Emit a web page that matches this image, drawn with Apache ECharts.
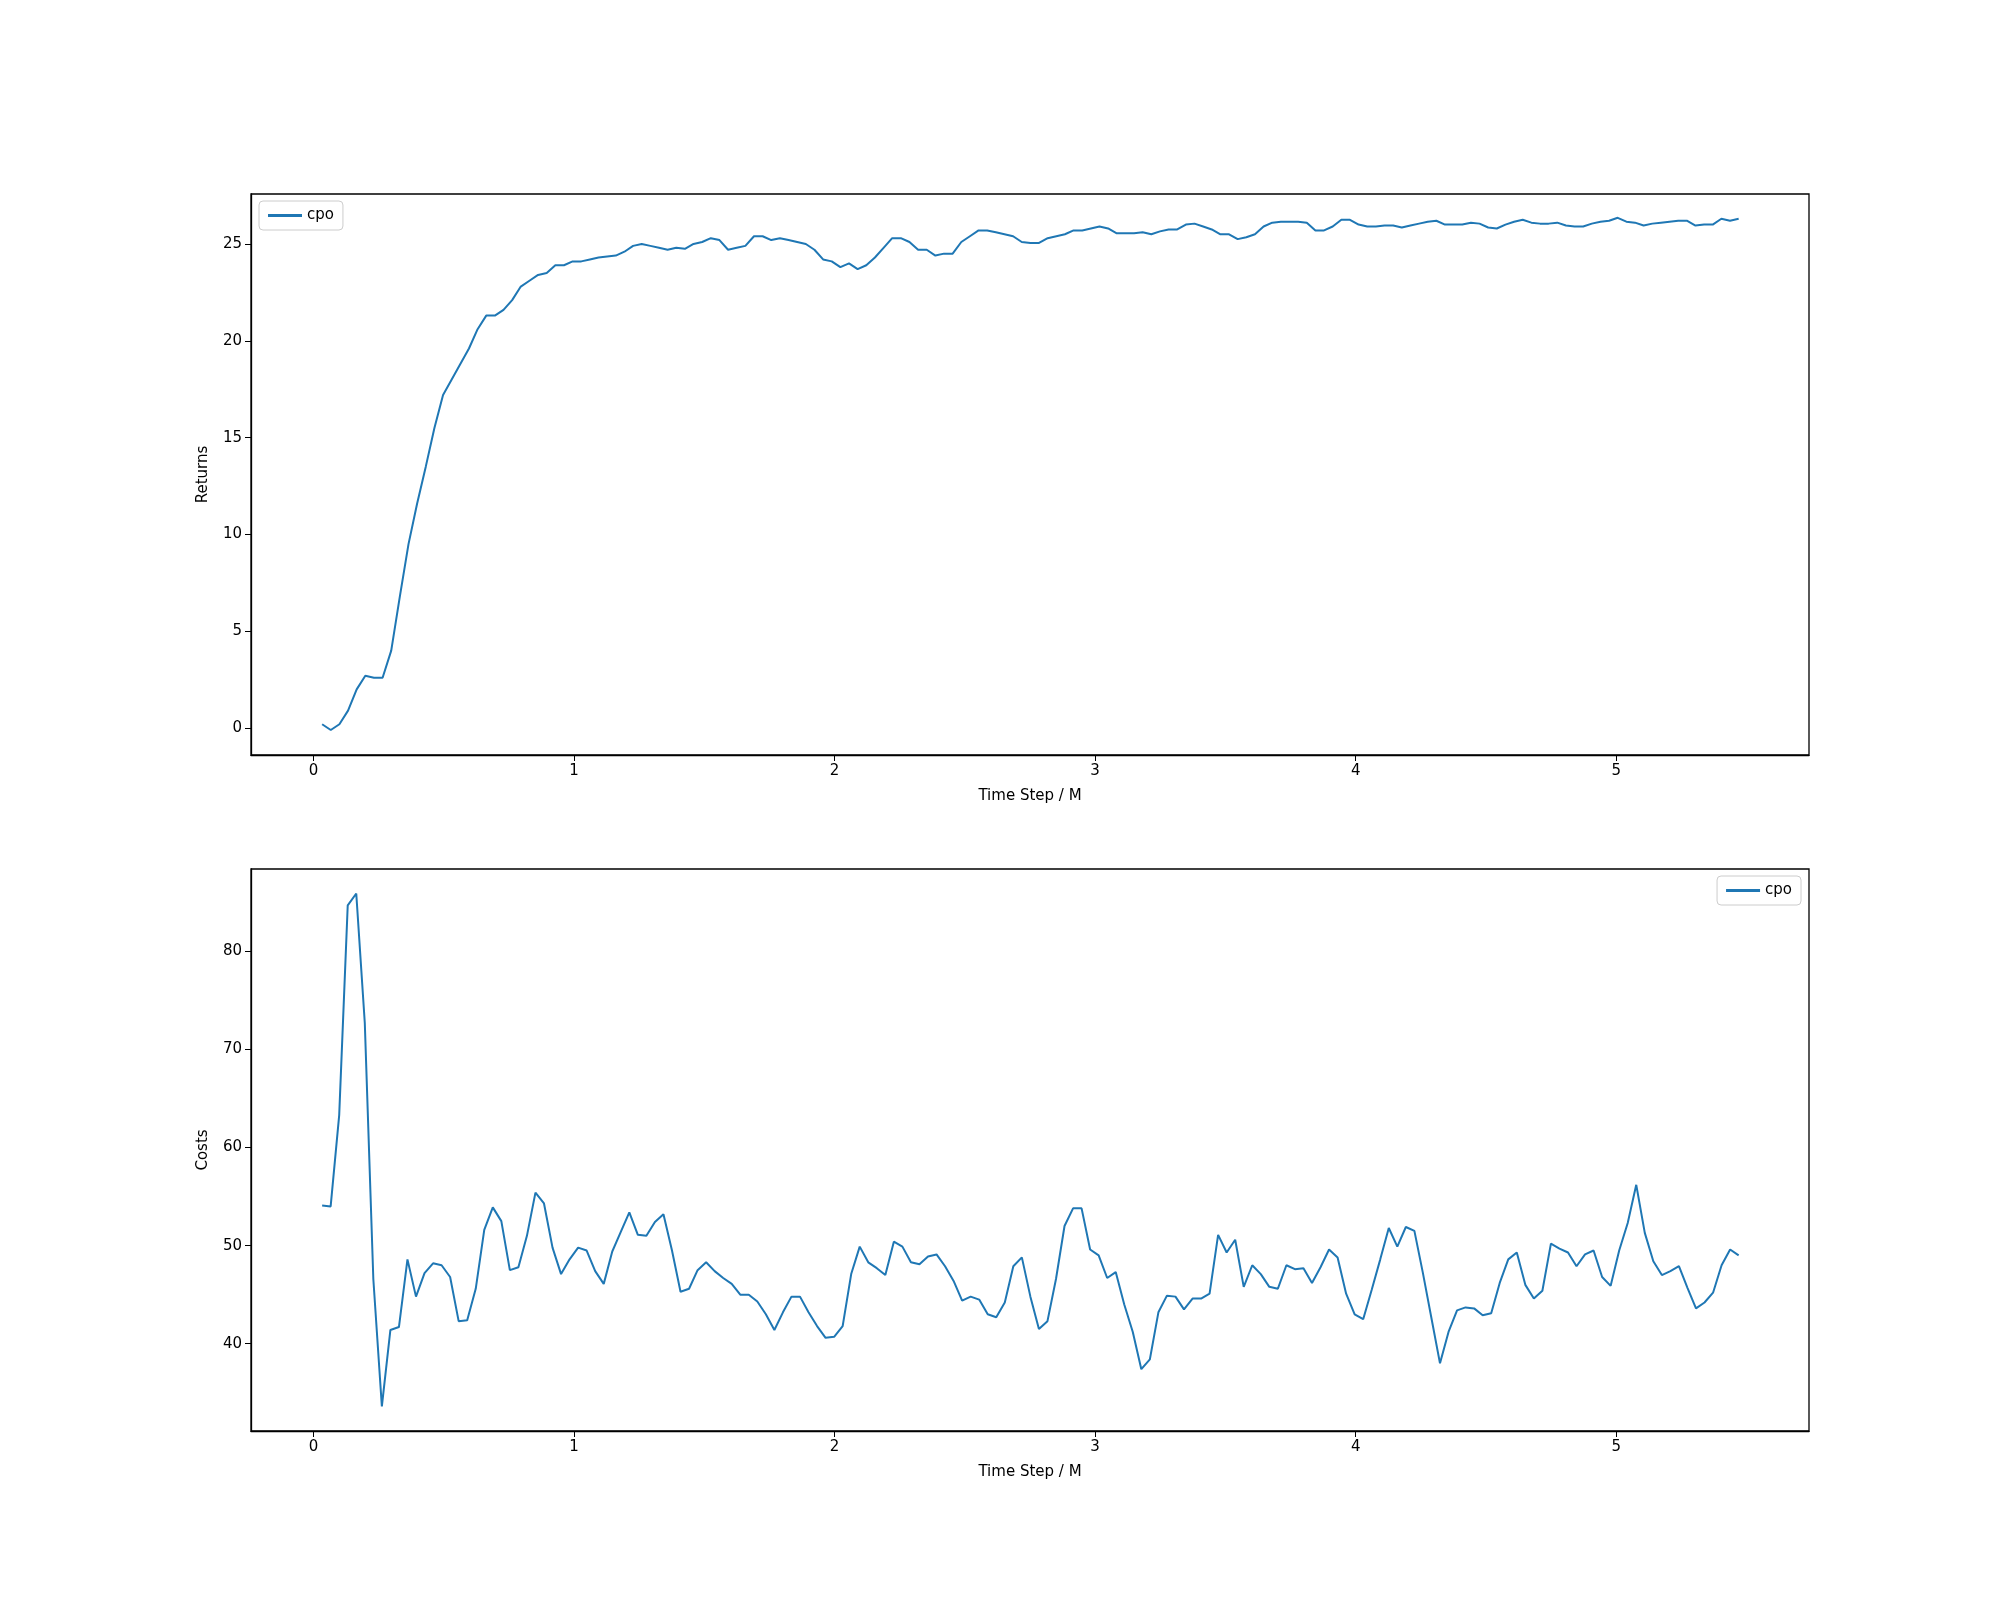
<!DOCTYPE html>
<html lang="en">
<head>
    <meta charset="UTF-8">
    <title>cpo returns / costs</title>
    <script src="https://cdn.jsdelivr.net/npm/echarts@6.0.0/dist/echarts.min.js"></script>
    <style>
        body { margin: 0; background: #fff; }
        #chart { width: 2000px; height: 1600px; }
    </style>
</head>
<body>
    <div id="chart"></div>
    <script>
        const returns = [0.2, -0.1, 0.2, 0.9, 2.0, 2.7, 2.6, 2.6, 4.0, 6.8, 9.5, 11.6, 13.5, 15.5, 17.2, 18.0, 18.8, 19.6, 20.6, 21.3,
            21.3, 21.6, 22.1, 22.8, 23.1, 23.4, 23.5, 23.9, 23.9, 24.1, 24.1, 24.2, 24.3, 24.35, 24.4, 24.6, 24.9, 25.0, 24.9, 24.8,
            24.7, 24.8, 24.75, 25.0, 25.1, 25.3, 25.2, 24.7, 24.8, 24.9, 25.4, 25.4, 25.2, 25.3, 25.2, 25.1, 25.0, 24.7, 24.2, 24.1,
            23.8, 24.0, 23.7, 23.9, 24.3, 24.8, 25.3, 25.3, 25.1, 24.7, 24.7, 24.4, 24.5, 24.5, 25.1, 25.4, 25.7, 25.7, 25.6, 25.5,
            25.4, 25.1, 25.05, 25.05, 25.3, 25.4, 25.5, 25.7, 25.7, 25.8, 25.9, 25.8, 25.55, 25.55, 25.55, 25.6, 25.5, 25.65, 25.75, 25.75,
            26.0, 26.05, 25.9, 25.75, 25.5, 25.5, 25.25, 25.35, 25.5, 25.9, 26.1, 26.15, 26.15, 26.15, 26.1, 25.7, 25.7, 25.9, 26.25, 26.25,
            26.0, 25.9, 25.9, 25.95, 25.95, 25.85, 25.95, 26.05, 26.15, 26.2, 26.0, 26.0, 26.0, 26.1, 26.05, 25.85, 25.8, 26.0, 26.15, 26.25,
            26.1, 26.05, 26.05, 26.1, 25.95, 25.9, 25.9, 26.05, 26.15, 26.2, 26.35, 26.15, 26.1, 25.95, 26.05, 26.1, 26.15, 26.2, 26.2, 25.95,
            26.0, 26.0, 26.3, 26.2, 26.3];
        const costs = [54.1, 54.0, 63.3, 84.7, 85.9, 72.7, 46.6, 33.6, 41.4, 41.7, 48.6, 44.8, 47.2, 48.2, 48.0, 46.8, 42.3, 42.4, 45.6, 51.6,
            53.9, 52.5, 47.5, 47.8, 51.0, 55.4, 54.3, 49.8, 47.1, 48.6, 49.8, 49.5, 47.4, 46.1, 49.4, 51.4, 53.4, 51.1, 51.0, 52.4,
            53.2, 49.5, 45.3, 45.6, 47.5, 48.3, 47.4, 46.7, 46.1, 45.0, 45.0, 44.3, 43.0, 41.4, 43.2, 44.8, 44.8, 43.2, 41.8, 40.6,
            40.7, 41.8, 47.1, 49.9, 48.3, 47.7, 47.0, 50.4, 49.9, 48.3, 48.1, 48.9, 49.1, 47.9, 46.4, 44.4, 44.8, 44.5, 43.0, 42.7,
            44.2, 47.9, 48.8, 44.8, 41.5, 42.3, 46.6, 52.0, 53.8, 53.8, 49.6, 49.0, 46.7, 47.3, 44.0, 41.2, 37.4, 38.4, 43.2, 44.9,
            44.8, 43.5, 44.6, 44.6, 45.1, 51.1, 49.3, 50.6, 45.8, 48.0, 47.1, 45.8, 45.6, 48.0, 47.6, 47.7, 46.2, 47.8, 49.6, 48.8,
            45.1, 43.0, 42.5, 45.5, 48.6, 51.8, 49.9, 51.9, 51.5, 47.2, 42.6, 38.0, 41.2, 43.4, 43.7, 43.6, 42.9, 43.1, 46.2, 48.6,
            49.3, 46.0, 44.6, 45.4, 50.2, 49.7, 49.3, 47.9, 49.1, 49.5, 46.8, 45.9, 49.5, 52.3, 56.2, 51.3, 48.4, 47.0, 47.4, 47.9,
            45.7, 43.6, 44.2, 45.2, 48.0, 49.6, 49.0];
        const firstStep = 0.033;   // M, first logged step
        const lastStep = 5.47;     // M, last logged step
        const xTicks = [0, 1, 2, 3, 4, 5];

        function withSteps(values) {
            const dx = (lastStep - firstStep) / (values.length - 1);
            return values.map((v, i) => [firstStep + i * dx, v]);
        }

        const font = 'DejaVu Sans';
        const textStyle = { fontFamily: font, fontSize: 15, color: '#000' };
        const axisBase = {
            axisLine: { show: true, onZero: false, lineStyle: { color: '#000', width: 1.3 } },
            axisTick: { show: true, length: 6, lineStyle: { color: '#000' } },
            axisLabel: { ...textStyle, margin: 9 },
            splitLine: { show: false },
            nameTextStyle: textStyle
        };
        function xAxis(gridIndex) {
            return {
                ...axisBase, type: 'value', gridIndex, min: -0.24, max: 5.74, interval: 1,
                axisLabel: { ...axisBase.axisLabel, customValues: xTicks },
                axisTick: { ...axisBase.axisTick, customValues: xTicks },
                name: 'Time Step / M', nameLocation: 'middle', nameGap: 34
            };
        }
        function yAxis(gridIndex, name, min, max, interval) {
            const ticks = [];
            for (let v = Math.ceil(min / interval) * interval; v <= max; v += interval) ticks.push(v);
            return {
                ...axisBase, type: 'value', gridIndex, min, max, name, nameLocation: 'middle', nameGap: 40,
                axisLabel: { ...axisBase.axisLabel, customValues: ticks },
                axisTick: { ...axisBase.axisTick, customValues: ticks }
            };
        }
        const legendStyle = {
            backgroundColor: '#fff', borderColor: '#ccc', borderWidth: 1, borderRadius: 4,
            padding: [7, 9], itemWidth: 34, itemHeight: 3, textStyle: { ...textStyle, fontSize: 15 },
            icon: 'rect'
        };

        const chart = echarts.init(document.getElementById('chart'), null, { renderer: 'canvas' });
        chart.setOption({
            animation: false,
            color: ['#1f77b4'],
            grid: [
                { left: 251, right: 191, top: 194, height: 561, show: true, borderColor: '#000', borderWidth: 1.3 },
                { left: 251, right: 191, top: 869, height: 562, show: true, borderColor: '#000', borderWidth: 1.3 }
            ],
            xAxis: [xAxis(0), xAxis(1)],
            yAxis: [yAxis(0, 'Returns', -1.39, 27.58, 5), yAxis(1, 'Costs', 31.1, 88.4, 10)],
            legend: [
                { ...legendStyle, left: 259, top: 201, data: ['cpo'] },
                { ...legendStyle, right: 199, top: 876, data: ['cpo_c'], formatter: () => 'cpo' }
            ],
            series: [
                { name: 'cpo', type: 'line', xAxisIndex: 0, yAxisIndex: 0, data: withSteps(returns),
                  showSymbol: false, lineStyle: { width: 2 } },
                { name: 'cpo_c', type: 'line', xAxisIndex: 1, yAxisIndex: 1, data: withSteps(costs),
                  showSymbol: false, lineStyle: { width: 2 } }
            ]
        });
    </script>
</body>
</html>
